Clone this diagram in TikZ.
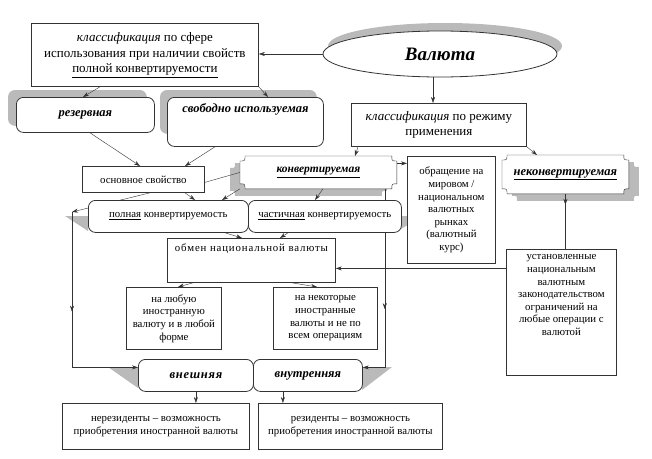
\documentclass[tikz,border=0pt]{standalone}
\usepackage{fontspec}
\setmainfont{Liberation Serif}
\usetikzlibrary{arrows.meta,shapes.geometric,decorations.markings}
\pgfdeclarelayer{shadow}
\pgfdeclarelayer{lines}
\pgfsetlayers{shadow,lines,main}

\newcommand\fbig{\fontsize{13}{15.5}\selectfont}
\newcommand\fsm{\fontsize{10.8}{12.6}\selectfont}
\newcommand\fbi{\fontsize{12.5}{15}\selectfont\bfseries\itshape}
% plaque outline round a node
\newcommand\plaquepath[1]{([yshift=-5pt]#1.north west) .. controls ([shift={(5,5)}]#1.north west) .. ([xshift=5pt]#1.north west)
 -- ([xshift=-5pt]#1.north east) .. controls ([shift={(-5,5)}]#1.north east) .. ([yshift=-5pt]#1.north east)
 -- ([yshift=5pt]#1.south east) .. controls ([shift={(-5,-5)}]#1.south east) .. ([xshift=-5pt]#1.south east)
 -- ([xshift=5pt]#1.south west) .. controls ([shift={(5,-5)}]#1.south west) .. ([yshift=5pt]#1.south west) -- cycle}

\tikzset{
 box/.style={draw=black!80, fill=white, align=center, inner sep=2pt, anchor=north west, font=\fsm},
 rbox/.style={box, rounded corners=7pt},
 plq/.style={align=center, inner sep=2pt, anchor=north west, font=\fbi},
 shd/.style={fill=black!27},
 midarr/.style={postaction={decorate}, decoration={markings, mark=at position #1 with {\arrow{>}}}},
}

\begin{document}
\begin{tikzpicture}[x=1pt, y=-1pt, line width=0.8pt, >={Stealth[length=6pt,width=4pt]}]
\useasboundingbox (0,0) rectangle (652,458);

\node[box, font=\fbig, minimum width=227pt, minimum height=63pt] (klass1) at (31,23)
 {\textit{классификация} по сфере\\использования при наличии свойств\\\underline{полной конвертируемости}};
\node[ellipse, draw=black!80, fill=white, minimum width=234pt, minimum height=46pt, inner sep=0pt,
 font=\fontsize{19}{22}\selectfont\bfseries\itshape] (val) at (440,54) {Валюта};
\node[box, font=\fbig, minimum width=175pt, minimum height=43pt] (klass2) at (351,103)
 {\textit{классификация} по режиму\\применения};

\node[rbox, font=\fbi, minimum width=138pt, minimum height=35pt] (rezerv) at (16,97) {резервная};
\node[rbox, minimum width=156pt, minimum height=49pt,
 label={[font=\fbi, anchor=north, yshift=-3pt]north:свободно используемая}] (svob) at (167,97) {};
\node[box, minimum width=122pt, minimum height=26pt] (osnov) at (82,166) {основное свойство};

\node[plq, minimum width=156pt, minimum height=32pt, font=\fontsize{11.5}{14}\selectfont\bfseries\itshape] (konv) at (240,156)
 {\underline{конвертируемая}};
\node[plq, minimum width=126pt, minimum height=38pt] (nekonv) at (502,155) {\underline{неконвертируемая}};
\node[box, minimum width=88pt, minimum height=107pt] (obrash) at (407,156)
 {обращение на\\мировом /\\национальном\\валютных\\рынках\\(валютный\\курс)};

\node[rbox, minimum width=160pt, minimum height=32pt] (polnaya) at (88,200) {\underline{полная} конвертируемость};
\node[rbox, minimum width=153pt, minimum height=32pt] (chast) at (248,200) {\underline{частичная} конвертируемость};
\node[box, minimum width=168pt, minimum height=44pt,
 label={[font=\fsm\addfontfeature{LetterSpace=8}, anchor=north, yshift=-2pt]north:обмен национальной валюты}] (obmen) at (167,238) {};
\node[box, minimum width=110pt, minimum height=126pt,
 label={[font=\fsm, align=center, anchor=north, yshift=-2pt]north:установленные\\национальным\\валютным\\законодательством\\ограничений на\\любые операции с\\валютой}] (ustan) at (506,249) {};

\node[box, minimum width=95pt, minimum height=62pt] (lyub) at (126,287) {на любую\\иностранную\\валюту и в любой\\форме};
\node[box, minimum width=104pt, minimum height=62pt] (nekot) at (273,287) {на некоторые\\иностранные\\валюты и не по\\всем операциям};

\node[rbox, font=\fbi\addfontfeature{LetterSpace=6}, minimum width=115pt, minimum height=32pt] (vnesh) at (138,359) {внешняя};
\node[rbox, font=\fbi, minimum width=109pt, minimum height=32pt] (vnutr) at (253,359) {внутренняя};

\node[box, minimum width=187pt, minimum height=46pt] (nerez) at (62,403) {нерезиденты -- возможность\\приобретения иностранной валюты};
\node[box, minimum width=184pt, minimum height=46pt] (rez) at (258,403) {резиденты -- возможность\\приобретения иностранной валюты};

\coordinate (lft) at (72,212);

\begin{pgfonlayer}{shadow}
\fill[shd] ([shift={(5,-8)}]val.center) ellipse [x radius=117pt, y radius=23pt];
\fill[shd, rounded corners=7pt] ([shift={(-8,-7)}]rezerv.north west) rectangle ([shift={(-8,-7)}]rezerv.south east);
\fill[shd, rounded corners=7pt] ([shift={(-7,-7)}]svob.north west) rectangle ([shift={(-7,-13)}]svob.south east);
\fill[shd, transform canvas={shift={(-10pt,-7pt)}}] \plaquepath{konv};
\fill[shd, transform canvas={shift={(10pt,-7pt)}}] \plaquepath{nekonv};
\fill[shd] (65,216) -- (88,216) -- (88,231) -- cycle; % perspective
\fill[shd] (401,216) -- (423,216) -- (401,229) -- cycle;
\fill[shd] (108,367) -- (138,367) -- (138,388) -- cycle;
\fill[shd] (362,367) -- (392,367) -- (362,390) -- cycle;
\end{pgfonlayer}

\begin{pgfonlayer}{lines}
\filldraw[fill=white, draw=black!80] \plaquepath{konv};
\filldraw[fill=white, draw=black!80] \plaquepath{nekonv};
\begin{scope}[draw=black!80]
\draw[->] (val.west) -- (val.west -| klass1.east);
\draw[->] ([xshift=-7pt]val.south) -- ([xshift=-7pt]val.south |- klass2.north);
\draw[->] ([xshift=69pt]klass1.south west) -- ([xshift=67pt]rezerv.north west);
\draw[->] (klass1.south east) -- ([xshift=101pt]svob.north west);
\draw[->] ([xshift=74pt]rezerv.south west) -- ([xshift=58pt]osnov.north west);
\draw[->] ([xshift=48pt]svob.south west) -- ([xshift=103pt]osnov.north west);
\draw[->] ([xshift=7pt]klass2.south west) -- ([xshift=115pt]konv.north west);
\draw[->] (klass2.south east) -- ([xshift=35pt]nekonv.north west);
\draw ([yshift=-3pt]osnov.east) -- (konv.west);
\draw[->] ([yshift=9pt]konv.east) -- ([yshift=9pt]konv.east -| obrash.west);
\draw[->] ([xshift=103pt]osnov.south west) -- ([xshift=107pt]polnaya.north west);
\draw[->] ([xshift=68pt]osnov.south west) -- (lft);
\draw[->, midarr=0.45] (lft) |- ([yshift=8pt]vnesh.west);
\draw[->] (konv.south west) -- ([xshift=134pt]polnaya.north west);
\draw[->] ([xshift=83pt]konv.south west) -- ([xshift=67pt]chast.north west);
\draw[->, midarr=0.6] ([xshift=-12pt]konv.south east) |- ([yshift=8pt]vnutr.east);
\draw[->] ([xshift=137pt]polnaya.south west) -- ([xshift=75pt]obmen.north west);
\draw[->] ([xshift=40pt]chast.south west) -- ([xshift=113pt]obmen.north west);
\draw[->] ([xshift=26pt]obmen.south west) -- ([xshift=52pt]lyub.north west);
\draw[->] ([xshift=125pt]obmen.south west) -- ([xshift=44pt]nekot.north west);
\draw[midarr=0.2] (nekonv.south) -- (nekonv.south |- ustan.north);
\draw[->] ([yshift=-8pt]obmen.east -| ustan.west) -- ([yshift=-8pt]obmen.east);
\draw[->] (vnesh.south) -- (vnesh.south |- nerez.north);
\draw[->] ([xshift=-25pt]vnutr.south) -- ([xshift=-25pt]vnutr.south |- rez.north);
\end{scope}
\end{pgfonlayer}
\end{tikzpicture}
\end{document}
